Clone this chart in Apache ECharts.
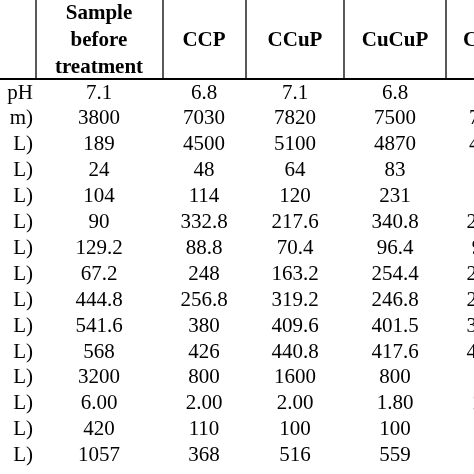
<!DOCTYPE html><html><head><meta charset="utf-8"><script src="https://cdn.jsdelivr.net/npm/echarts@6/dist/echarts.min.js"></script>
<style>html,body{margin:0;padding:0;background:#fff}#c{width:474px;height:474px}</style></head><body><div id="c"></div>
<script>
const headers = ["", "Sample\nbefore\ntreatment", "CCP", "CCuP", "CuCuP", "C"];
const rowLabels = ["pH","m)","L)","L)","L)","L)","L)","L)","L)","L)","L)","L)","L)","L)","L)"];
const sampleBefore = ["7.1","3800","189","24","104","90","129.2","67.2","444.8","541.6","568","3200","6.00","420","1057"];
const ccp = ["6.8","7030","4500","48","114","332.8","88.8","248","256.8","380","426","800","2.00","110","368"];
const ccup = ["7.1","7820","5100","64","120","217.6","70.4","163.2","319.2","409.6","440.8","1600","2.00","100","516"];
const cucup = ["6.8","7500","4870","83","231","340.8","96.4","254.4","246.8","401.5","417.6","800","1.80","100","559"];
const lastCol = ["7.0","7300","4600","110","210","240.6","92.4","210.8","240.6","360.2","410.4","800","1.90","120","540"];

const colX = [33, 99, 204, 295, 395, 490];
const vLines = [36, 163, 246, 344, 446];
const headerBottom = 79, rowY0 = 93, rowH = 25.9;
const cols = [rowLabels, sampleBefore, ccp, ccup, cucup, lastCol];
const cells = [];
cols.forEach((c, ci) => c.forEach((v, ri) => cells.push([ci, ri, v])));
const hcells = headers.map((h, i) => [i, h]);
const fam = '"Liberation Serif", "DejaVu Serif", serif';
const chart = echarts.init(document.getElementById('c'));
chart.setOption({
  animation:false,
  grid:{left:0,right:0,top:0,bottom:0},
  xAxis:{type:'value',min:0,max:474,show:false},
  yAxis:{type:'value',min:0,max:474,inverse:true,show:false},
  series:[
    {type:'custom',data:[0],silent:true,renderItem:(p,api)=>{
      const ch=[];
      vLines.forEach(x=>{const a=api.coord([x,0]),b=api.coord([x,headerBottom]);
        ch.push({type:'line',shape:{x1:a[0],y1:a[1],x2:b[0],y2:b[1]},style:{stroke:'#000',lineWidth:1.3}});});
      const a=api.coord([0,headerBottom]),b=api.coord([474,headerBottom]);
      ch.push({type:'line',shape:{x1:a[0],y1:a[1],x2:b[0],y2:b[1]},style:{stroke:'#000',lineWidth:1.8}});
      return {type:'group',children:ch};}},
    {type:'custom',data:hcells,silent:true,renderItem:(p,api)=>{
      const i=api.value(0), t=hcells[p.dataIndex][1], pt=api.coord([i===5?463:colX[i],41]);
      return {type:'text',style:{text:t,x:pt[0],y:pt[1],align:i===5?'left':'center',verticalAlign:'middle',fontSize:21,fontWeight:'bold',fontFamily:fam,lineHeight:27,fill:'#000'}};}},
    {type:'custom',data:cells,silent:true,renderItem:(p,api)=>{
      const ci=api.value(0), ri=api.value(1), t=cells[p.dataIndex][2];
      const pt=api.coord([colX[ci],rowY0+ri*rowH]);
      return {type:'text',style:{text:t,x:pt[0],y:pt[1],align:ci===0?'right':'center',verticalAlign:'middle',fontSize:21,fontFamily:fam,fill:'#000'}};}}
  ]
});
</script></body></html>
